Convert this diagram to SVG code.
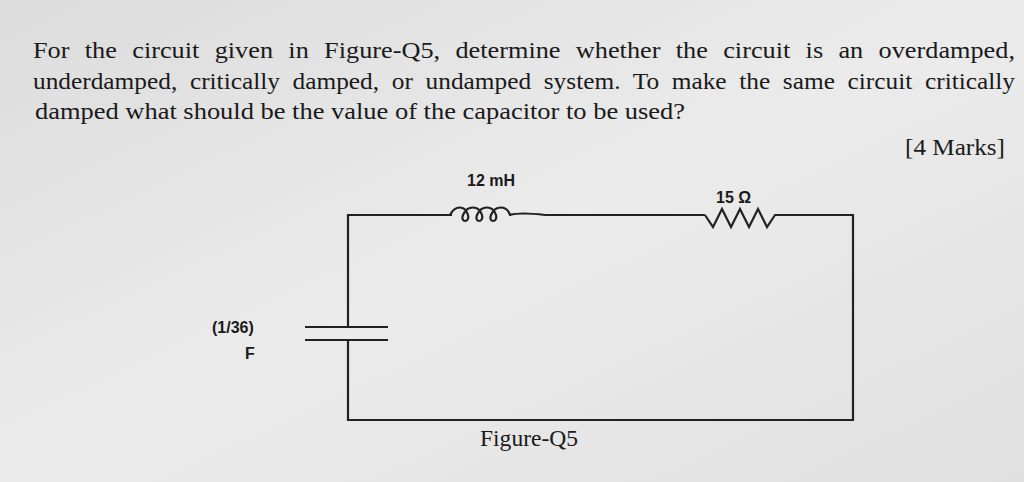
<svg xmlns="http://www.w3.org/2000/svg" width="1024" height="482" viewBox="0 0 1024 482">
<style>
.q{font-family:"Liberation Serif",serif;font-size:24px;fill:#1a1a1a}
.l{font-family:"Liberation Sans",sans-serif;font-size:16px;font-weight:bold;fill:#1a1a1a}
.w{fill:none;stroke:#222;stroke-width:2.2}
</style>
<defs><linearGradient id="bg" x1="0" y1="0" x2="1" y2="1"><stop offset="0" stop-color="#dcdcdc"/><stop offset="0.5" stop-color="#ebebeb"/><stop offset="1" stop-color="#e0e0e0"/></linearGradient></defs>
<rect width="1024" height="482" fill="url(#bg)"/>
<text class="q" x="33" y="58" textLength="982" lengthAdjust="spacingAndGlyphs" word-spacing="8">For the circuit given in Figure-Q5, determine whether the circuit is an overdamped,</text>
<text class="q" x="33" y="89" textLength="982" lengthAdjust="spacingAndGlyphs" word-spacing="6">underdamped, critically damped, or undamped system. To make the same circuit critically</text>
<text class="q" x="35" y="119" textLength="650" lengthAdjust="spacingAndGlyphs">damped what should be the value of the capacitor to be used?</text>
<text class="q" x="905" y="155" textLength="100" lengthAdjust="spacingAndGlyphs">[4 Marks]</text>
<g id="wires" class="w">
<path d="M452 215 H348 V327 M348 340 V420 H853 V215 H792 M545 215 H705"/>
</g>
<g id="inductor"><path class="w" d="M450 215 c5-10 15-10 18 0 c2 8-8 8-5 0 c4-10 16-10 19 0 c2 8-8 8-5 0 c4-10 16-10 19 0 c2 8-8 8-5 0 c4-10 16-10 19 0 q10-3 35 0"/><text class="l" x="467" y="186">12 mH</text></g>
<g id="resistor"><path class="w" d="M705 215 l8 12 l9-18 l9 18 l9-18 l9 18 l9-18 l9 18 l8-12 l17 0"/><text class="l" x="716" y="203">15 Ω</text></g>
<g id="capacitor"><path class="w" d="M305 327 H388 M305 340 H388"/><text class="l" x="212" y="333">(1/36)</text><text class="l" x="245" y="359">F</text></g>
<text class="q" x="480" y="446" font-size="21" textLength="98" lengthAdjust="spacingAndGlyphs">Figure-Q5</text>
</svg>
